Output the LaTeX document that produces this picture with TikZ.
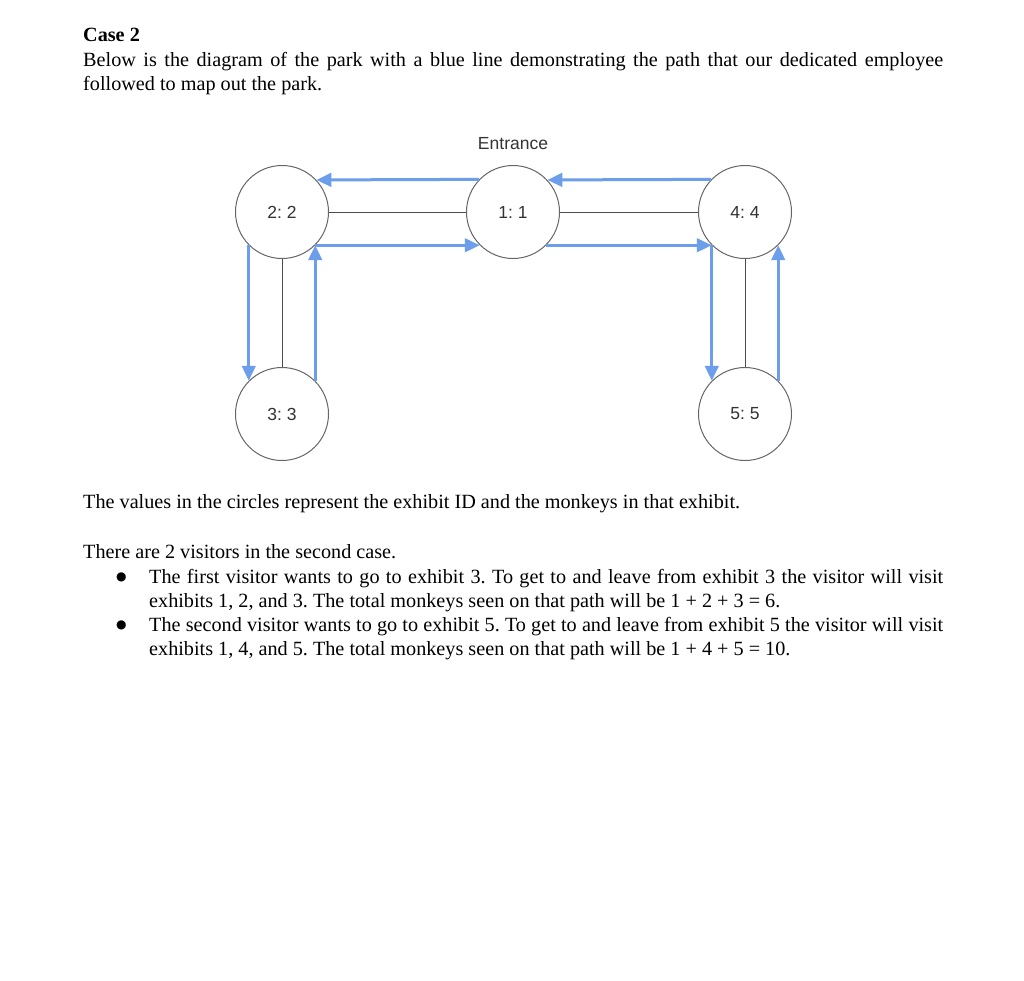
\documentclass[tikz,border=0pt]{standalone}
\usepackage{fontspec}
\setmainfont{Liberation Serif}
\setsansfont{Liberation Sans}
\newfontfamily\dotfont{DejaVu Sans}
\frenchspacing
\usetikzlibrary{arrows.meta}
\definecolor{pathblue}{HTML}{6D9EEB}
\definecolor{ringgray}{HTML}{666666}

\begin{document}
\begin{tikzpicture}[x=1pt,y=-1pt,
  exhibit/.style={circle,draw=ringgray,line width=1pt,minimum size=93pt,inner sep=0pt,
    font=\sffamily\fontsize{17.5}{20}\selectfont,text=black!80},
  walkway/.style={draw=black!70,line width=1pt},
  route/.style={draw=pathblue,line width=3pt,-{Triangle[length=15pt,width=13.5pt]}},
  body/.style={inner sep=0pt,font=\fontsize{20.2}{24.4}\selectfont},
  para/.style={body,anchor=north west,align=justify}]
% Page
\fill[white] (0,0) rectangle (1024,980);
\useasboundingbox (0,0) rectangle (1024,980);

% Heading and intro
\node[body,anchor=base west,font=\fontsize{20.2}{24.4}\selectfont\bfseries] (title) at (83,41) {Case 2};
\node[para,text width=860pt] (intro) at (83,52) {Below is the diagram of the park with a blue line demonstrating the path that our dedicated employee\linebreak followed to map out the park.};

% Exhibits
\node[exhibit] (n1) at (513,212) {1: 1};
\node[exhibit] (n2) at (282,212) {2: 2};
\node[exhibit] (n3) at (282,414) {3: 3};
\node[exhibit] (n4) at (745,212) {4: 4};
\node[exhibit] (n5) at (745,414) {5: 5};
\node[font=\sffamily\fontsize{17.5}{20}\selectfont,text=black!80] (entr) at (513,144) {Entrance};

% Walkways
\draw[walkway] (n2) -- (n1);
\draw[walkway] (n1) -- (n4);
\draw[walkway] (n2) -- (n3);
\draw[walkway] (n4) -- (n5);

% Employee route
\draw[route] (n1.136.5) -- (n2.43.5);
\draw[route] (n2.-135) -- (n3.135);
\draw[route] (n3.45) -- (n2.-45);
\draw[route] (n2.-45) -- (n1.-135);
\draw[route] (n1.-45) -- (n4.-135);
\draw[route] (n4.-135) -- (n5.135);
\draw[route] (n5.45) -- (n4.-45);
\draw[route] (n4.136.5) -- (n1.43.5);

% Explanation
\node[body,anchor=base west] (legend) at (83,508) {The values in the circles represent the exhibit ID and the monkeys in that exhibit.};
\node[body,anchor=base west] (visitors) at (83,558) {There are 2 visitors in the second case.};
\node[body,anchor=base west,font=\dotfont\fontsize{12}{12}\selectfont] (dot1) at (116,580) {●};
\node[para,text width=794pt] (first) at (149,569) {The first visitor wants to go to exhibit 3. To get to and leave from exhibit 3 the visitor will visit\linebreak exhibits 1, 2, and 3. The total monkeys seen on that path will be 1 + 2 + 3 = 6.};
\node[body,anchor=base west,font=\dotfont\fontsize{12}{12}\selectfont] (dot2) at (116,628) {●};
\node[para,text width=794pt] (second) at (149,617) {The second visitor wants to go to exhibit 5. To get to and leave from exhibit 5 the visitor will visit\linebreak exhibits 1, 4, and 5. The total monkeys seen on that path will be 1 + 4 + 5 = 10.};
\end{tikzpicture}
\end{document}
